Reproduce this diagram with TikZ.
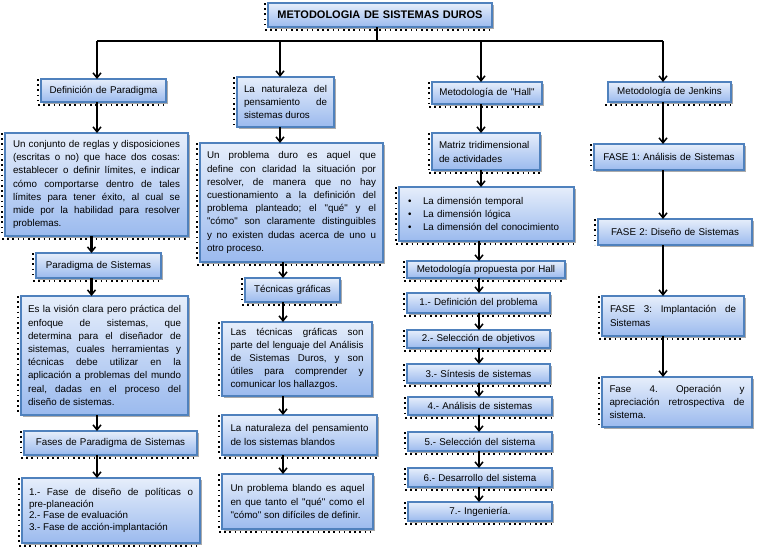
\documentclass[tikz,border=0pt]{standalone}
\usepackage{fontspec}
\setmainfont{Liberation Sans}
\newfontfamily\arialf{Liberation Sans}
\usetikzlibrary{arrows.meta,shadows}
\definecolor{boxblue}{RGB}{79,129,189}
\definecolor{gtop}{RGB}{230,238,251}
\definecolor{gbot}{RGB}{155,186,238}
\newcommand{\mybox}[8][]{%
  \pgfmathsetmacro{\bw}{#5-#3}%
  \pgfmathsetmacro{\bh}{#6-#4}%
  \pgfmathsetmacro{\tw}{#5-#3-2*#7}%
  \node[box, anchor=north west, minimum width=\bw pt, minimum height=\bh pt,
        inner xsep=#7pt, text width=\tw pt, #1] (#2) at (#3,#4) {#8};}
\begin{document}
\begin{tikzpicture}[x=1pt,y=-1pt,
  box/.style={draw=boxblue, line width=1.2pt, top color=gtop, bottom color=gbot,
    drop shadow={shadow xshift=1.6pt, shadow yshift=-1.6pt, fill=black!60, opacity=0.55},
    outer sep=0pt, inner ysep=2pt, align=justify,
    font=\arialf\fontsize{9.8}{13.2}\selectfont,
    execute at begin node={\frenchspacing\tolerance=10000\hbadness=10000\hyphenpenalty=10000\exhyphenpenalty=10000}},
  ctr/.style={align=center},
  lft/.style={align=left},
  arr/.style={line width=2.4pt, -{Straight Barb[length=5pt,width=8pt,line width=1.5pt]}},
  stemline/.style={line width=2.2pt},
  busline/.style={line width=1.5pt},
  ghost/.style={line width=1.2pt, black, dash pattern=on 1.6pt off 3.6pt}]
\fill[white] (0,0) rectangle (757,552);
\useasboundingbox (0,0) rectangle (757,552);

% title
\mybox[ctr, font=\arialf\fontsize{11}{12}\bfseries]{title}{268}{3}{492}{27}{3}{METODOLOGIA DE SISTEMAS DUROS}

% column 1
\mybox[ctr]{b1}{41}{79}{166}{102}{3}{Definición de Paradigma}
\mybox{b3}{5}{133}{188}{236}{8}{Un conjunto de reglas y disposiciones\linebreak (escritas o no) que hace dos cosas:\linebreak establecer o definir límites, e indicar\linebreak cómo comportarse dentro de tales\linebreak límites para tener éxito, al cual se\linebreak mide por la habilidad para resolver\linebreak problemas.}
\mybox[ctr]{b5}{36}{253}{161}{278}{3}{Paradigma de Sistemas}
\mybox{b6}{21}{296}{188}{415}{7}{Es la visión clara pero práctica del\linebreak enfoque de sistemas, que\linebreak determina para el diseñador de\linebreak sistemas, cuales herramientas y\linebreak técnicas debe utilizar en la\linebreak aplicación a problemas del mundo\linebreak real, dadas en el proceso del\linebreak diseño de sistemas.}
\mybox[ctr]{b7}{24}{431}{197}{455}{3}{Fases de Paradigma de Sistemas}
\mybox[font=\arialf\fontsize{9.8}{11.7}\selectfont]{b8}{22}{478}{200}{543}{7}{1.- Fase de diseño de políticas o\linebreak pre-planeación\par 2.- Fase de evaluación\par 3.- Fase de acción-implantación}

% column 2
\mybox{b2}{237}{77}{334}{127}{7}{La naturaleza del\linebreak pensamiento de\linebreak sistemas duros}
\mybox{b4}{200}{143}{383}{262}{7}{Un problema duro es aquel que\linebreak define con claridad la situación por\linebreak resolver, de manera que no hay\linebreak cuestionamiento a la definición del\linebreak problema planteado; el "qué" y el\linebreak "cómo" son claramente distinguibles\linebreak y no existen dudas acerca de uno u\linebreak otro proceso.}
\mybox[ctr]{b9}{245}{278}{340}{302}{3}{Técnicas gráficas}
\mybox{b10}{222}{322}{372}{396}{8.5}{Las técnicas gráficas son\linebreak parte del lenguaje del Análisis\linebreak de Sistemas Duros, y son\linebreak útiles para comprender y\linebreak comunicar los hallazgos.}
\mybox{b11}{222}{415}{377}{455}{8.5}{La naturaleza del pensamiento\linebreak de los sistemas blandos}
\mybox{b12}{222}{474}{373}{529}{8.5}{Un problema blando es aquel\linebreak en que tanto el "qué" como el\linebreak "cómo" son difíciles de definir.}

% column 3
\mybox[ctr]{b13}{432}{82}{542}{104}{3}{Metodología de "Hall"}
\mybox[lft, font=\arialf\fontsize{9.8}{14}\selectfont]{b14}{432}{133}{540}{170}{7}{Matriz tridimensional\par de actividades}
\mybox[lft, font=\arialf\fontsize{9.8}{13}\selectfont]{b15}{399}{187}{574}{241}{8}{\makebox[16pt][l]{\hspace{1pt}•}La dimensión temporal\par\makebox[16pt][l]{\hspace{1pt}•}La dimensión lógica\par\makebox[16pt][l]{\hspace{1pt}•}La dimensión del conocimiento}
\mybox[ctr]{b16}{407}{261}{565}{278}{3}{Metodología propuesta por Hall}
\mybox[ctr]{b17}{407}{293}{550}{313}{3}{1.- Definición del problema}
\mybox[ctr]{b18}{407}{330}{550}{348}{3}{2.- Selección de objetivos}
\mybox[ctr]{b19}{407}{364}{550}{383}{3}{3.- Síntesis de sistemas}
\mybox[ctr]{b20}{408}{397}{552}{415}{3}{4.- Análisis de sistemas}
\mybox[ctr]{b21}{408}{432}{552}{451}{3}{5.- Selección del sistema}
\mybox[ctr]{b22}{408}{468}{552}{487}{3}{6.- Desarrollo del sistema}
\mybox[ctr]{b23}{408}{502}{552}{521}{3}{7.- Ingeniería.}

% column 4
\mybox[ctr]{b24}{608}{82}{731}{102}{3}{Metodología de Jenkins}
\mybox[ctr]{b25}{594}{144}{744}{170}{3}{FASE 1: Análisis de Sistemas}
\mybox[ctr]{b26}{598}{219}{752}{245}{3}{FASE 2: Diseño de Sistemas}
\mybox[font=\arialf\fontsize{9.8}{14}\selectfont]{b27}{602}{296}{744}{336}{8}{FASE 3: Implantación de\linebreak Sistemas}
\mybox{b28}{602}{377}{752}{427}{7.5}{Fase 4. Operación y\linebreak apreciación retrospectiva de\linebreak sistema.}

% ghost frame marks
\foreach \n in {title,b1,b2,b3,b4,b5,b6,b7,b8,b9,b10,b11,b12,b13,b14,b15,b16,b17,b18,b19,b20,b21,b22,b23,b25,b26,b27,b28}
  \draw[ghost] ([xshift=-3pt]\n.north west) -- ([xshift=-3pt]\n.south west);
\foreach \n in {title,b1,b3,b4,b5,b7,b8,b9,b11,b12,b13,b14,b15,b16,b17,b18,b19,b20,b21,b22,b23,b24,b27}
  \draw[ghost] ([xshift=-3pt,yshift=-3pt]\n.south west) -- ([yshift=-3pt]\n.south east);

% connectors
\coordinate (bus) at (377,41);
\coordinate (j1) at (97,41);
\coordinate (j2) at (280,41);
\coordinate (j3) at (481,41);
\coordinate (j4) at (663,41);
\coordinate (xa) at (91.5,0);
\coordinate (xb) at (283,0);
\coordinate (xc) at (479,0);
\draw[stemline] (title.south -| bus) -- (bus);
\draw[busline] (j1) -- (j4);

\draw[arr] (j1) -- (j1 |- b1.north);
\draw[arr] (b1.south -| j1) -- (b3.north -| j1);
\draw[arr] (b3.south -| xa) -- (b5.north -| xa);
\draw[arr] (b5.south -| xa) -- (b6.north -| xa);
\draw[arr] (b6.south -| j1) -- (b7.north -| j1);
\draw[arr] (b7.south -| j1) -- (b8.north -| j1);

\draw[arr] (j2) -- (j2 |- b2.north);
\draw[arr] (b2.south -| j2) -- (b4.north -| j2);
\draw[arr] (b4.south -| xb) -- (b9.north -| xb);
\draw[arr] (b9.south -| xb) -- (b10.north -| xb);
\draw[arr] (b10.south -| xb) -- (b11.north -| xb);
\draw[arr] (b11.south -| xb) -- (b12.north -| xb);

\draw[arr] (j3) -- (j3 |- b13.north);
\draw[arr] (b13.south -| j3) -- (b14.north -| j3);
\draw[arr] (b14.south -| j3) -- (b15.north -| j3);
\draw[arr] (b15.south -| xc) -- (b16.north -| xc);
\draw[arr] (b16.south -| xc) -- (b17.north -| xc);
\draw[arr] (b17.south -| xc) -- (b18.north -| xc);
\draw[arr] (b18.south -| xc) -- (b19.north -| xc);
\draw[arr] (b19.south -| xc) -- (b20.north -| xc);
\draw[arr] (b20.south -| xc) -- (b21.north -| xc);
\draw[arr] (b21.south -| xc) -- (b22.north -| xc);
\draw[arr] (b22.south -| xc) -- (b23.north -| xc);

\draw[arr] (j4) -- (j4 |- b24.north);
\draw[arr] (b24.south -| j4) -- (b25.north -| j4);
\draw[arr] (b25.south -| j4) -- (b26.north -| j4);
\draw[arr] (b26.south -| j4) -- (b27.north -| j4);
\draw[arr] (b27.south -| j4) -- (b28.north -| j4);
\end{tikzpicture}
\end{document}
